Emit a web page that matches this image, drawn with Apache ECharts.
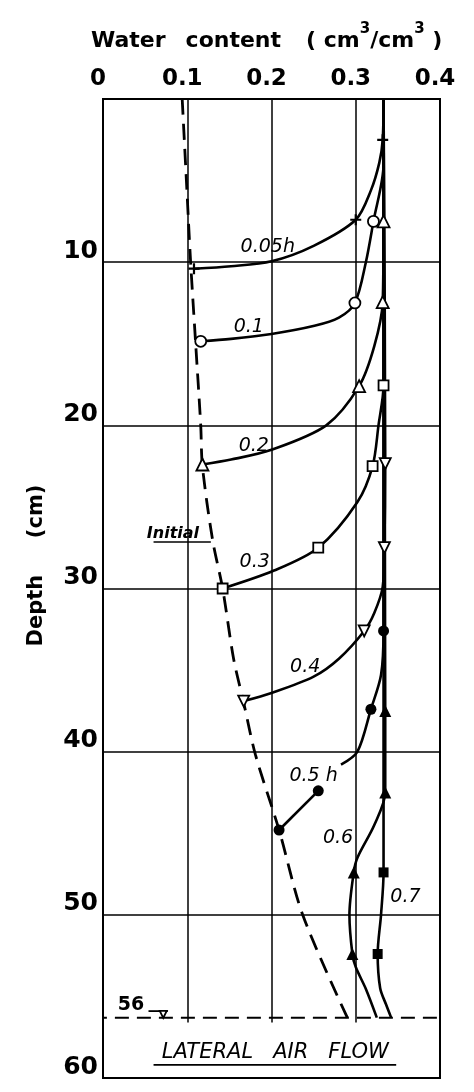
<!DOCTYPE html>
<html><head><meta charset="utf-8">
<script src="https://cdn.jsdelivr.net/npm/echarts/dist/echarts.min.js"></script>
<style>html,body{margin:0;padding:0;background:#fff}#c{width:474px;height:1092px}</style>
</head><body><div id="c"></div><script>
// ---- axis ticks ----
const waterTicks = [0, 0.1, 0.2, 0.3, 0.4];
const depthTicks = [0, 10, 20, 30, 40, 50, 60];
const waterTableDepth = 56.3;

// ---- curves: [water content, depth] ----
const initialCurve = [[0.094,0],[0.099,5],[0.104,10],[0.110,15],[0.116,20],[0.118,22.5],[0.130,27],[0.142,30],[0.155,34.3],[0.167,37],[0.181,40.2],[0.209,44.8],[0.237,50],[0.290,56.3]];
const curve005 = [[0.333,0],[0.332,2.5],[0.328,3.9],[0.318,5.6],[0.300,7.4],[0.25,9.0],[0.2,9.95],[0.152,10.25],[0.108,10.4]];
const marks005 = [[0.332,2.5],[0.300,7.4],[0.108,10.4]];
const curve010 = [[0.333,0],[0.333,4],[0.321,7.5],[0.312,10],[0.299,12.5],[0.28,13.4],[0.251,13.9],[0.2,14.4],[0.152,14.7],[0.116,14.85]];
const marks010 = [[0.321,7.5],[0.299,12.5],[0.116,14.85]];
const curve020 = [[0.333,0],[0.333,7.5],[0.332,12.45],[0.322,15.15],[0.304,17.6],[0.265,20],[0.2,21.5],[0.152,22.1],[0.118,22.4]];
const marks020 = [[0.333,7.5],[0.332,12.45],[0.304,17.6],[0.118,22.4]];
const curve030 = [[0.333,0],[0.333,17.55],[0.327,20],[0.320,22.5],[0.302,24.7],[0.2555,27.5],[0.203,28.9],[0.142,30]];
const marks030 = [[0.333,17.55],[0.320,22.5],[0.2555,27.5],[0.142,30]];
const curve040 = [[0.333,0],[0.335,22.35],[0.334,27.5],[0.332,29.9],[0.322,31.5],[0.310,32.6],[0.28,34.3],[0.25,35.4],[0.2,36.4],[0.167,36.9]];
const marks040 = [[0.335,22.35],[0.334,27.5],[0.310,32.6],[0.167,36.9]];
const curve050a = [[0.333,0],[0.333,32.6],[0.330,35.3],[0.318,37.4],[0.302,40],[0.2825,40.8]];
const curve050b = [[0.2555,42.4],[0.209,44.8]];
const marks050 = [[0.333,32.6],[0.318,37.4],[0.2555,42.4],[0.209,44.8]];
const curve060 = [[0.333,0],[0.335,37.5],[0.335,42.5],[0.322,44.5],[0.302,46.5],[0.2976,47.4],[0.2925,50],[0.296,52.4],[0.300,53.2],[0.3125,54.6],[0.325,56.3]];
const marks060 = [[0.335,37.5],[0.335,42.5],[0.2976,47.4],[0.296,52.4]];
const curve070 = [[0.333,0],[0.333,47.4],[0.330,50],[0.326,52.4],[0.329,54.5],[0.336,55.5],[0.342,56.3]];
const marks070 = [[0.333,47.4],[0.326,52.4]];

// ---- annotation texts: [text, water content, depth] ----
const curveLabels = [
  ['0.05h', 0.1956, 9.05],
  ['0.1', 0.173, 14.0],
  ['0.2', 0.179, 21.3],
  ['0.3', 0.180, 28.4],
  ['0.4', 0.240, 34.8],
  ['0.5 h', 0.250, 41.5],
  ['0.6', 0.279, 45.3],
  ['0.7', 0.359, 48.9]
];
const initialLabel = ['Initial', 0.083, 26.67];
const waterTableLabel = ['56', 0.0331, 55.55];
const bottomLabel = ['LATERAL   AIR   FLOW', 0.2045, 58.45];

const BLACK = '#000';
const FONT = 'DejaVu Sans';
const PLUS = 'path://M4,0H6V4H10V6H6V10H4V6H0V4H4Z';

function curve(data, w){
  return {type:'line', data, smooth:0.3, symbol:'none', showSymbol:false, silent:true,
    lineStyle:{color:BLACK, width:w||2.6}, z:3, animation:false};
}
function marks(data, symbol, filled, size, rotate){
  return {type:'scatter', data, symbol, symbolSize:size, symbolRotate:rotate||0, silent:true,
    itemStyle:{color: filled ? BLACK : '#fff', borderColor:BLACK, borderWidth: filled ? 0 : 1.8, opacity:1},
    z:5, animation:false};
}
function plainLine(data, w, type){
  return {type:'line', data, symbol:'none', silent:true, clip:false,
    lineStyle:{color:BLACK, width:w, type:type||'solid'}, z:2, animation:false};
}

const chart = echarts.init(document.getElementById('c'));
chart.setOption({
  animation:false,
  backgroundColor:'#fff',
  title:{
    text:'{a|Water}    {a|content}     {a|( cm}{s|3}{a|/cm}{s|3}{a| )}',
    left:86, top:17,
    textStyle:{rich:{
      a:{fontFamily:FONT, fontWeight:'bold', fontSize:22, color:BLACK, lineHeight:30, verticalAlign:'bottom'},
      s:{fontFamily:FONT, fontWeight:'bold', fontSize:15, color:BLACK, lineHeight:30, verticalAlign:'top'}
    }}
  },
  grid:{left:103, right:34, top:99, bottom:14, show:true, borderColor:BLACK, borderWidth:2, backgroundColor:'transparent'},
  xAxis:{
    type:'value', position:'top', min:waterTicks[0], max:waterTicks[waterTicks.length-1], interval:0.1,
    axisLine:{show:true, lineStyle:{color:BLACK, width:2}},
    axisTick:{show:false},
    splitLine:{show:false},
    axisLabel:{color:BLACK, fontFamily:FONT, fontWeight:'bold', fontSize:23, margin:8, padding:[0,10,0,0],
      formatter: v => (Math.round(v*10)/10).toString()}
  },
  yAxis:{
    type:'value', inverse:true, min:depthTicks[0], max:depthTicks[depthTicks.length-1], interval:10,
    name:'Depth     (cm)', nameLocation:'middle', nameRotate:90, nameGap:56,
    nameTextStyle:{color:BLACK, fontFamily:FONT, fontWeight:'bold', fontSize:21, padding:[0,0,0,46]},
    axisLine:{show:true, lineStyle:{color:BLACK, width:2}},
    axisTick:{show:false},
    splitLine:{show:true, lineStyle:{color:BLACK, width:1.5}},
    axisLabel:{color:BLACK, fontFamily:FONT, fontWeight:'bold', fontSize:25, margin:5, verticalAlign:'bottom', lineHeight:22,
      formatter: v => v === 0 ? '' : String(v)}
  },
  series:[
    {type:'line', data:[], silent:true, markLine:{silent:true, symbol:'none', label:{show:false},
      lineStyle:{color:BLACK, width:1.5, type:'solid'},
      data: waterTicks.slice(1, -1).map(v => [{coord:[v, 0]}, {coord:[v, waterTableDepth + 0.3]}])}},
    plainLine([[-0.012, waterTableDepth],[0.412, waterTableDepth]], 2, [14, 8]),
    Object.assign(curve(initialCurve, 2.8), {lineStyle:{color:BLACK, width:2.8, type:[16, 9]}}),
    curve(curve005), curve(curve010), curve(curve020), curve(curve030), curve(curve040),
    curve(curve050a), curve(curve050b), curve(curve060), curve(curve070),
    marks(marks005, PLUS, true, 11),
    marks(marks010, 'circle', false, 11),
    marks(marks020, 'triangle', false, 12),
    marks(marks030, 'rect', false, 10),
    marks(marks040, 'triangle', false, 11, 180),
    marks(marks050, 'circle', true, 11),
    marks(marks060, 'triangle', true, 12),
    marks(marks070, 'rect', true, 10),
    plainLine([[0.060, 27.15],[0.128, 27.15]], 1.6),
    plainLine([[0.054, 55.9],[0.077, 55.9]], 1.8),
    marks([[0.0715, 56.1]], 'triangle', false, 7, 180),
    plainLine([[0.060, 59.2],[0.348, 59.2]], 1.8)
  ]
});

function textEl(item, style){
  const p = chart.convertToPixel({gridIndex:0}, [item[1], item[2]]);
  return {type:'text', x:p[0], y:p[1], z:100, silent:true,
    style:Object.assign({text:item[0], fill:BLACK, fontFamily:FONT, align:'center', verticalAlign:'middle'}, style)};
}
const els = curveLabels.map(l => textEl(l, {fontStyle:'italic', fontSize:19}));
els.push(textEl(initialLabel, {fontStyle:'italic', fontWeight:'bold', fontSize:16}));
els.push(textEl(waterTableLabel, {fontWeight:'bold', fontSize:19}));
els.push(textEl(bottomLabel, {fontStyle:'italic', fontSize:21}));
chart.setOption({graphic:els});
</script></body></html>
